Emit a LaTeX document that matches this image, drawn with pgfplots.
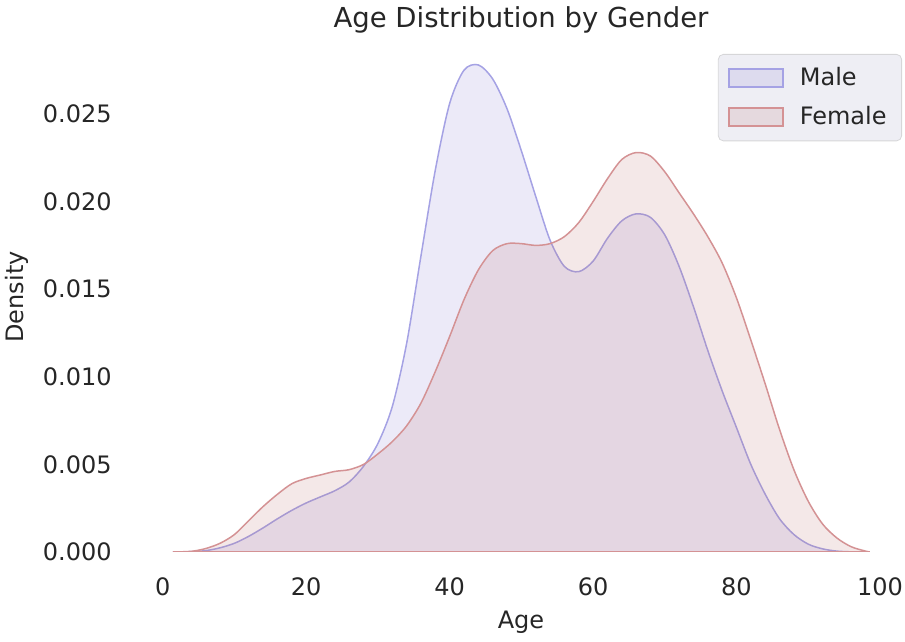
\documentclass[border=0pt]{standalone}
\usepackage{fontspec}
\setmainfont{DejaVu Sans}
\usepackage{pgfplots}
\usepackage{pgfplotstable}
\pgfplotsset{compat=1.18}

\definecolor{txt}{RGB}{38,38,38}
\definecolor{maleline}{RGB}{165,162,228}
\definecolor{malebase}{RGB}{128,115,208}
\definecolor{femline}{RGB}{212,146,148}
\definecolor{fembase}{RGB}{182,102,102}
\definecolor{legfill}{RGB}{238,238,244}
\definecolor{legedge}{RGB}{214,214,216}

% KDE curves (age, density), every 2 years
\pgfplotstableread{
x y
1.4 0
4 0.00002
6 0.00008
8 0.00024
10 0.0005
12 0.0009
14 0.00138
16 0.0019
18 0.00238
20 0.0028
22 0.00315
24 0.0035
26 0.0040
28 0.0049
30 0.0062
32 0.0083
34 0.0119
36 0.0169
38 0.0218
40 0.0256
42 0.0275
44 0.0278
46 0.0270
48 0.0253
50 0.0229
52 0.0203
54 0.0178
56 0.0163
58 0.0160
60 0.0166
62 0.0179
64 0.0189
66 0.0193
68 0.0191
70 0.0181
72 0.0163
74 0.0140
76 0.0115
78 0.0092
80 0.0071
82 0.0050
84 0.0033
86 0.0019
88 0.0010
90 0.00045
92 0.00018
94 0.00005
96 0.00001
98.6 0
}\male

\pgfplotstableread{
x y
1.4 0
4 0.00004
6 0.0002
8 0.0005
10 0.0010
12 0.0018
14 0.0026
16 0.0033
18 0.0039
20 0.0042
22 0.0044
24 0.0046
26 0.0047
28 0.0050
30 0.0056
32 0.0063
34 0.0072
36 0.0085
38 0.0103
40 0.0123
42 0.0144
44 0.0161
46 0.0172
48 0.0176
50 0.0176
52 0.0175
54 0.0176
56 0.0180
58 0.0188
60 0.0200
62 0.0213
64 0.0224
66 0.0228
68 0.0226
70 0.0217
72 0.0205
74 0.0193
76 0.0180
78 0.0165
80 0.0145
82 0.0121
84 0.0096
86 0.0070
88 0.0047
90 0.0029
92 0.0016
94 0.0008
96 0.0003
98 0.00005
98.6 0
}\female

\begin{document}
\begin{tikzpicture}
\begin{axis}[
    scale only axis,
    width=384pt, height=255pt,
    xmin=-3.6, xmax=103.5,
    ymin=0, ymax=0.02911,
    axis line style={draw=none},
    major tick length=0pt,
    tick style={draw=none},
    xtick={0,20,40,60,80,100},
    ytick={0,0.005,0.010,0.015,0.020,0.025},
    scaled y ticks=false,
    /pgf/number format/assume math mode=true,
    yticklabel style={/pgf/number format/fixed, /pgf/number format/fixed zerofill, /pgf/number format/precision=3},
    ticklabel style={font=\fontsize{12}{14}\selectfont, text=txt, inner sep=0pt},
    xticklabel style={yshift=-12.5pt},
    yticklabel style={xshift=-12.5pt},
    xlabel={Age},
    ylabel={Density},
    label style={font=\fontsize{12}{14}\selectfont, text=txt},
    xlabel style={at={(axis description cs:0.5,0)}, anchor=base, yshift=-38pt},
    ylabel style={at={(axis description cs:-0.148,0.5)}, anchor=base},
    title={Age Distribution by Gender},
    title style={font=\fontsize{13.75}{16}\selectfont, text=txt, at={(axis description cs:0.5,1)}, anchor=base, yshift=1pt},
    legend image code/.code={\draw[#1, sharp corners] (0pt,-4.5pt) rectangle (27pt,4.5pt);},
    legend cell align=left,
    legend style={
        at={(axis description cs:1,1)}, anchor=north east,
        xshift=-1.5pt, yshift=-6pt,
        draw=legedge, fill=legfill, rounded corners=2.5pt,
        font=\fontsize{12}{14}\selectfont, text=txt,
        inner xsep=5pt, inner ysep=4pt,
        row sep=4pt,
        nodes={inner sep=2.5pt},
        /tikz/every odd column/.append style={column sep=5.5pt},
    },
]
\addplot[draw=maleline, line width=0.75pt, fill=malebase, fill opacity=0.15, smooth]
    table {\male} \closedcycle;
\addplot[draw=femline, line width=0.75pt, fill=fembase, fill opacity=0.15, smooth]
    table {\female} \closedcycle;
\legend{Male, Female}
\coordinate (SW) at (rel axis cs:0,0);
\end{axis}
\pgfresetboundingbox
\path[use as bounding box] ([shift={(-68.5pt,-45pt)}]SW) rectangle ([shift={(384pt,276pt)}]SW);
\end{tikzpicture}
\end{document}
